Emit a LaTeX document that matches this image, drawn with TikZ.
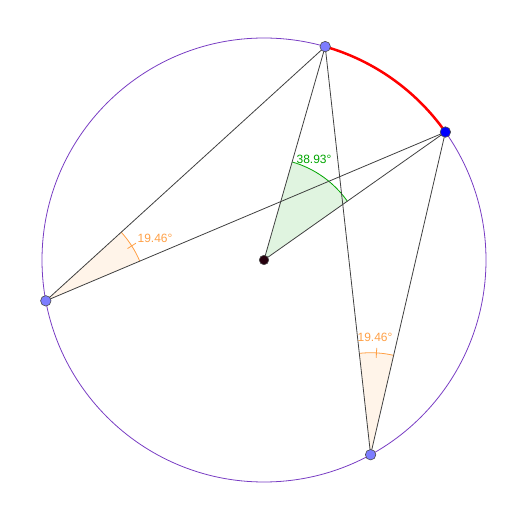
\documentclass[tikz,border=0pt]{standalone}
\usepackage{fontspec}
\setmainfont{Liberation Sans}
\usetikzlibrary{angles,calc}
\definecolor{circ_purple}{RGB}{120,60,195}
\definecolor{ang_green}{RGB}{0,165,0}
\definecolor{ang_orange}{RGB}{255,160,70}
\definecolor{pt_blue}{RGB}{125,125,255}
\tikzset{
  chord/.style={draw=black!75, line width=0.8pt},
  pt/.style={circle, draw=black!70, fill=pt_blue, line width=0.6pt, inner sep=0pt, minimum size=10.5pt},
  lbl/.style={font=\fontsize{12}{14}\selectfont}
}
\begin{document}
\begin{tikzpicture}[x=1pt,y=1pt]
	\useasboundingbox (0,0) rectangle (512,512);
	\coordinate (o) at (264,252);
	\coordinate (a) at ($(o)+(74.0:222)$);
	\coordinate (b) at ($(o)+(35.2:222)$);
	\coordinate (c) at ($(o)+(190.6:222)$);
	\coordinate (d) at ($(o)+(-61.3:222)$);
	% circle and arc
	\draw[circ_purple, line width=0.8pt] (o) circle[radius=222];
	\draw[red, line width=2.5pt] (a) arc[start angle=74, end angle=35.2, radius=222];
	% angles
	\pic[draw=ang_green, fill=ang_green!12, line width=0.8pt, angle radius=102pt] {angle=b--o--a};
	\pic[draw=ang_orange, fill=ang_orange!12, line width=0.8pt, angle radius=102pt] {angle=b--c--a};
	\pic[draw=ang_orange, fill=ang_orange!12, line width=0.8pt, angle radius=102pt] {angle=b--d--a};
	\draw[ang_orange, line width=0.8pt] ($(c)+(32.6:97)$) -- ($(c)+(32.6:107)$);
	\draw[ang_orange, line width=0.8pt] ($(d)+(86.7:97)$) -- ($(d)+(86.7:107)$);
	% chords
	\draw[chord] (a) -- (c) (b) -- (c) (a) -- (d) (b) -- (d);
	\draw[chord] (o) -- (a) (o) -- (b);
	% labels
	\node[lbl, text=ang_orange] (ang_c) at (155,274) {19.46°};
	\node[lbl, text=ang_green] (ang_o) at (314,353) {38.93°};
	\node[lbl, text=ang_orange] (ang_d) at (375,175) {19.46°};
	% points
	\foreach \p in {a,c,d}
	  \node[pt] (\p_pt) at (\p) {};
	\node[pt, fill=blue] (b_pt) at (b) {};
	\node[pt, fill=black!80!purple, minimum size=9.5pt] (o_pt) at (o) {};
\end{tikzpicture}
\end{document}
